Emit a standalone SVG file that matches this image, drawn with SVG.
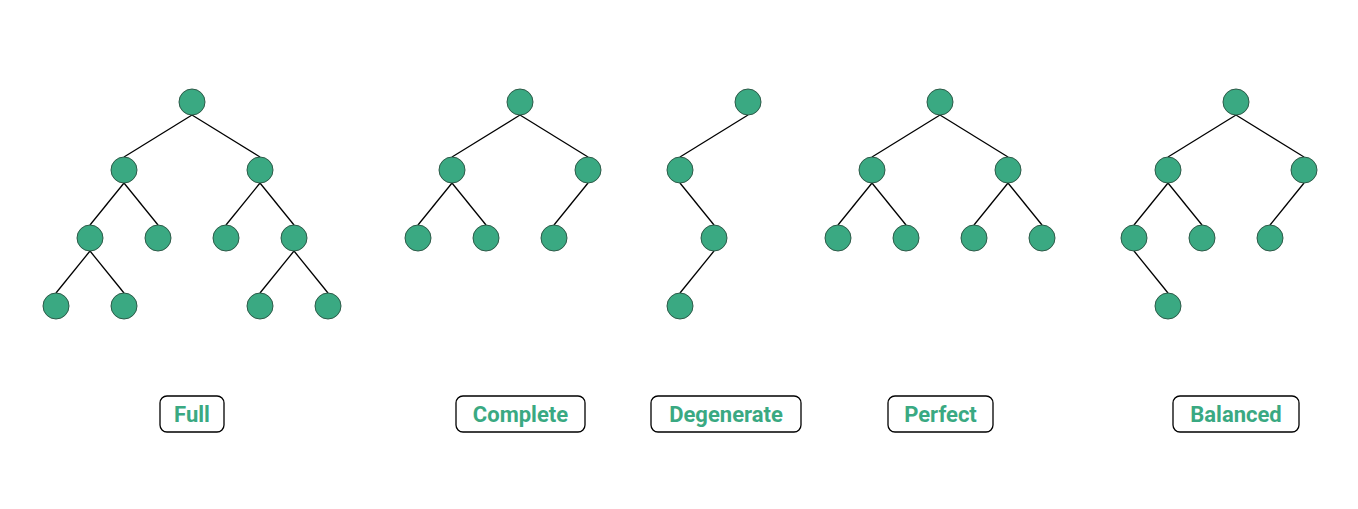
<svg xmlns="http://www.w3.org/2000/svg" width="1358" height="509" viewBox="0 0 1358 509">
<style>
circle{fill:#3aa982;stroke:#2d5a48;stroke-width:1}
.e line{stroke:#000;stroke-width:1.3}
rect{fill:#fff;stroke:#000;stroke-width:1.3}
text{font-family:Roboto,"Liberation Sans",sans-serif;font-weight:bold;font-size:22px;fill:#3aa982;text-anchor:middle}
</style>
<rect width="1358" height="509" style="stroke:none"/>
<g class="e">
<line x1="192" y1="115" x2="124" y2="157"/><line x1="192" y1="115" x2="260" y2="157"/>
<line x1="124" y1="183" x2="90" y2="225"/><line x1="124" y1="183" x2="158" y2="225"/>
<line x1="260" y1="183" x2="226" y2="225"/><line x1="260" y1="183" x2="294" y2="225"/>
<line x1="90" y1="251" x2="56" y2="293"/><line x1="90" y1="251" x2="124" y2="293"/>
<line x1="294" y1="251" x2="260" y2="293"/><line x1="294" y1="251" x2="328" y2="293"/>
<line x1="520" y1="115" x2="452" y2="157"/><line x1="520" y1="115" x2="588" y2="157"/>
<line x1="452" y1="183" x2="418" y2="225"/><line x1="452" y1="183" x2="486" y2="225"/>
<line x1="588" y1="183" x2="554" y2="225"/>
<line x1="748" y1="115" x2="680" y2="157"/><line x1="680" y1="183" x2="714" y2="225"/>
<line x1="714" y1="251" x2="680" y2="293"/>
<line x1="940" y1="115" x2="872" y2="157"/><line x1="940" y1="115" x2="1008" y2="157"/>
<line x1="872" y1="183" x2="838" y2="225"/><line x1="872" y1="183" x2="906" y2="225"/>
<line x1="1008" y1="183" x2="974" y2="225"/><line x1="1008" y1="183" x2="1042" y2="225"/>
<line x1="1236" y1="115" x2="1168" y2="157"/><line x1="1236" y1="115" x2="1304" y2="157"/>
<line x1="1168" y1="183" x2="1134" y2="225"/><line x1="1168" y1="183" x2="1202" y2="225"/>
<line x1="1304" y1="183" x2="1270" y2="225"/><line x1="1134" y1="251" x2="1168" y2="293"/>
</g>
<g id="full">
<circle cx="192" cy="102" r="13"/><circle cx="124" cy="170" r="13"/><circle cx="260" cy="170" r="13"/>
<circle cx="90" cy="238" r="13"/><circle cx="158" cy="238" r="13"/><circle cx="226" cy="238" r="13"/><circle cx="294" cy="238" r="13"/>
<circle cx="56" cy="306" r="13"/><circle cx="124" cy="306" r="13"/><circle cx="260" cy="306" r="13"/><circle cx="328" cy="306" r="13"/>
</g>
<g id="complete">
<circle cx="520" cy="102" r="13"/><circle cx="452" cy="170" r="13"/><circle cx="588" cy="170" r="13"/>
<circle cx="418" cy="238" r="13"/><circle cx="486" cy="238" r="13"/><circle cx="554" cy="238" r="13"/>
</g>
<g id="degenerate">
<circle cx="748" cy="102" r="13"/><circle cx="680" cy="170" r="13"/><circle cx="714" cy="238" r="13"/><circle cx="680" cy="306" r="13"/>
</g>
<g id="perfect">
<circle cx="940" cy="102" r="13"/><circle cx="872" cy="170" r="13"/><circle cx="1008" cy="170" r="13"/>
<circle cx="838" cy="238" r="13"/><circle cx="906" cy="238" r="13"/><circle cx="974" cy="238" r="13"/><circle cx="1042" cy="238" r="13"/>
</g>
<g id="balanced">
<circle cx="1236" cy="102" r="13"/><circle cx="1168" cy="170" r="13"/><circle cx="1304" cy="170" r="13"/>
<circle cx="1134" cy="238" r="13"/><circle cx="1202" cy="238" r="13"/><circle cx="1270" cy="238" r="13"/><circle cx="1168" cy="306" r="13"/>
</g>
<g id="label-full"><rect x="160" y="396" width="64" height="36" rx="7"/><text x="192" y="422">Full</text></g>
<g id="label-complete"><rect x="456" y="396" width="129" height="36" rx="7"/><text x="520.5" y="422">Complete</text></g>
<g id="label-degenerate"><rect x="651" y="396" width="150" height="36" rx="7"/><text x="726" y="422">Degenerate</text></g>
<g id="label-perfect"><rect x="888" y="396" width="105" height="36" rx="7"/><text x="940.5" y="422">Perfect</text></g>
<g id="label-balanced"><rect x="1173" y="396" width="126" height="36" rx="7"/><text x="1236" y="422">Balanced</text></g>
</svg>
